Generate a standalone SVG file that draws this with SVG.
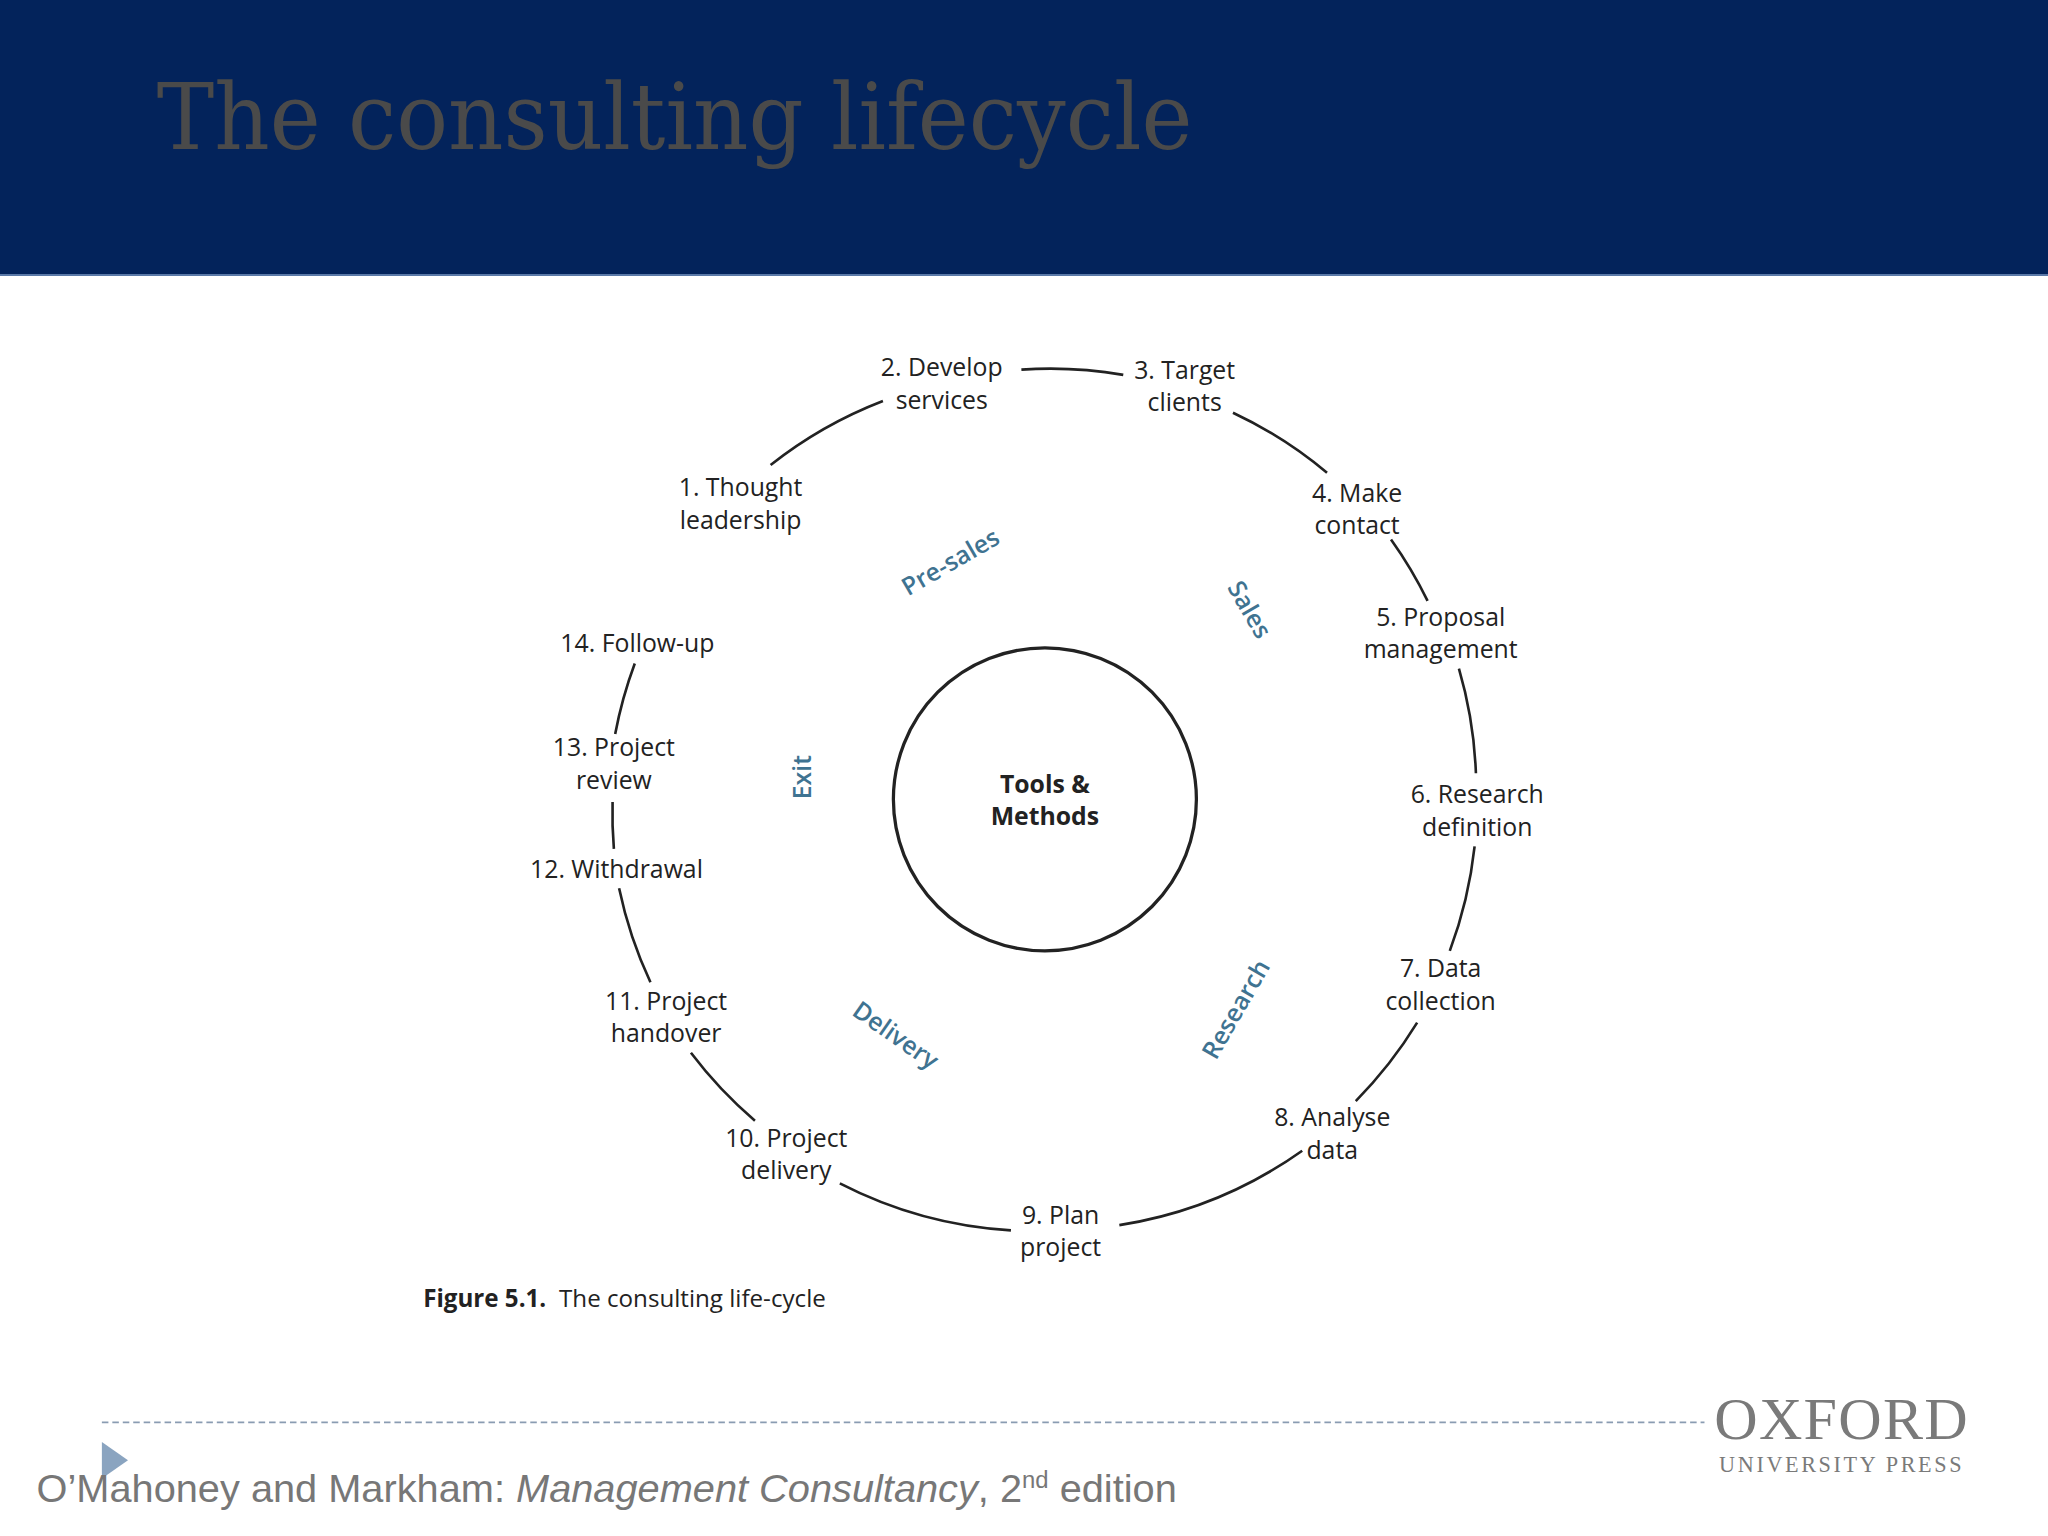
<svg xmlns="http://www.w3.org/2000/svg" width="2048" height="1536" viewBox="0 0 2048 1536">
<style>
.n{font-family:"Open Sans","Liberation Sans",sans-serif;font-size:19px;fill:#222;text-anchor:middle}
.p{font-family:"Open Sans","Liberation Sans",sans-serif;font-size:19px;fill:#3f7391;font-weight:600;text-anchor:middle}
.arc{fill:none;stroke:#222;stroke-width:2}
</style>
<rect width="2048" height="1536" fill="#fff"/>
<g transform="scale(1.30612)">
<rect x="0" y="0" width="1568" height="210" fill="#03235b"/>
<line x1="0" y1="210.5" x2="1568" y2="210.5" stroke="#5a79a8" stroke-width="1.5"/>
<text x="120" y="114" font-family="DejaVu Serif,serif" font-size="70" fill="#4a4a4a" textLength="793" lengthAdjust="spacingAndGlyphs">The consulting lifecycle</text>
<g id="connectors">
<path class="arc" d="M590,356 A330,330 0 0 1 676,307"/>
<path class="arc" d="M782,283 A330,330 0 0 1 860,287"/>
<path class="arc" d="M944,316 A330,330 0 0 1 1016,362"/>
<path class="arc" d="M1065,413 A330,330 0 0 1 1093,460"/>
<path class="arc" d="M1117,512 A330,330 0 0 1 1130,592"/>
<path class="arc" d="M1129,648 A330,330 0 0 1 1110,728"/>
<path class="arc" d="M1085,783 A330,330 0 0 1 1038,843"/>
<path class="arc" d="M997,881 A330,330 0 0 1 857,938"/>
<path class="arc" d="M774,942 A330,330 0 0 1 643,906"/>
<path class="arc" d="M578,858 A330,330 0 0 1 529,806"/>
<path class="arc" d="M498,752 A330,330 0 0 1 474,680"/>
<path class="arc" d="M470,650 A330,330 0 0 1 469,614"/>
<path class="arc" d="M471,562 A330,330 0 0 1 486,508"/>
</g>
<g id="center"><circle cx="800" cy="612" r="116" fill="none" stroke="#222" stroke-width="2.5"/>
<text class="n" font-weight="bold" x="800" y="607">Tools &amp;</text><text class="n" font-weight="bold" x="800" y="632">Methods</text></g>
<g id="n1"><text class="n" x="567" y="380">1. Thought</text><text class="n" x="567" y="405">leadership</text></g>
<g id="n2"><text class="n" x="721" y="288">2. Develop</text><text class="n" x="721" y="313">services</text></g>
<g id="n3"><text class="n" x="907" y="290">3. Target</text><text class="n" x="907" y="315">clients</text></g>
<g id="n4"><text class="n" x="1039" y="384">4. Make</text><text class="n" x="1039" y="409">contact</text></g>
<g id="n5"><text class="n" x="1103" y="479">5. Proposal</text><text class="n" x="1103" y="504">management</text></g>
<g id="n6"><text class="n" x="1131" y="615">6. Research</text><text class="n" x="1131" y="640">definition</text></g>
<g id="n7"><text class="n" x="1103" y="748">7. Data</text><text class="n" x="1103" y="773">collection</text></g>
<g id="n8"><text class="n" x="1020" y="862">8. Analyse</text><text class="n" x="1020" y="887">data</text></g>
<g id="n9"><text class="n" x="812" y="937">9. Plan</text><text class="n" x="812" y="962">project</text></g>
<g id="n10"><text class="n" x="602" y="878">10. Project</text><text class="n" x="602" y="903">delivery</text></g>
<g id="n11"><text class="n" x="510" y="773">11. Project</text><text class="n" x="510" y="798">handover</text></g>
<g id="n12"><text class="n" x="472" y="672">12. Withdrawal</text></g>
<g id="n13"><text class="n" x="470" y="579">13. Project</text><text class="n" x="470" y="604">review</text></g>
<g id="n14"><text class="n" x="488" y="499">14. Follow-up</text></g>
<g id="phases">
<text class="p" transform="translate(731,436) rotate(-30)">Pre-sales</text>
<text class="p" transform="translate(951,470) rotate(60)">Sales</text>
<text class="p" transform="translate(952,776) rotate(-60)">Research</text>
<text class="p" transform="translate(682,798) rotate(35)">Delivery</text>
<text class="p" transform="translate(621,595) rotate(-90)">Exit</text>
</g>
<text x="324" y="1001" font-family="Open Sans,Liberation Sans,sans-serif" font-size="18.5" fill="#222"><tspan font-weight="bold">Figure 5.1.</tspan><tspan x="428">The consulting life-cycle</tspan></text>
<line x1="78" y1="1089" x2="1305" y2="1089" stroke="#8a9cb2" stroke-width="1.2" stroke-dasharray="5,3"/>
<polygon points="78,1104 98,1118 78,1132" fill="#8aa4c0"/>
<text x="28" y="1150" font-family="Liberation Sans,sans-serif" font-size="30" fill="#777" textLength="873" lengthAdjust="spacingAndGlyphs">O’Mahoney and Markham: <tspan font-style="italic">Management Consultancy</tspan>, 2<tspan font-size="18" dy="-11">nd</tspan><tspan dy="11"> edition</tspan></text>
<text x="1410" y="1102" text-anchor="middle" font-family="Liberation Serif,serif" font-size="46" fill="#7a7a7a" letter-spacing="1">OXFORD</text>
<text x="1410" y="1127" text-anchor="middle" font-family="Liberation Serif,serif" font-size="17" fill="#7a7a7a" letter-spacing="2">UNIVERSITY PRESS</text>
</g>
</svg>
